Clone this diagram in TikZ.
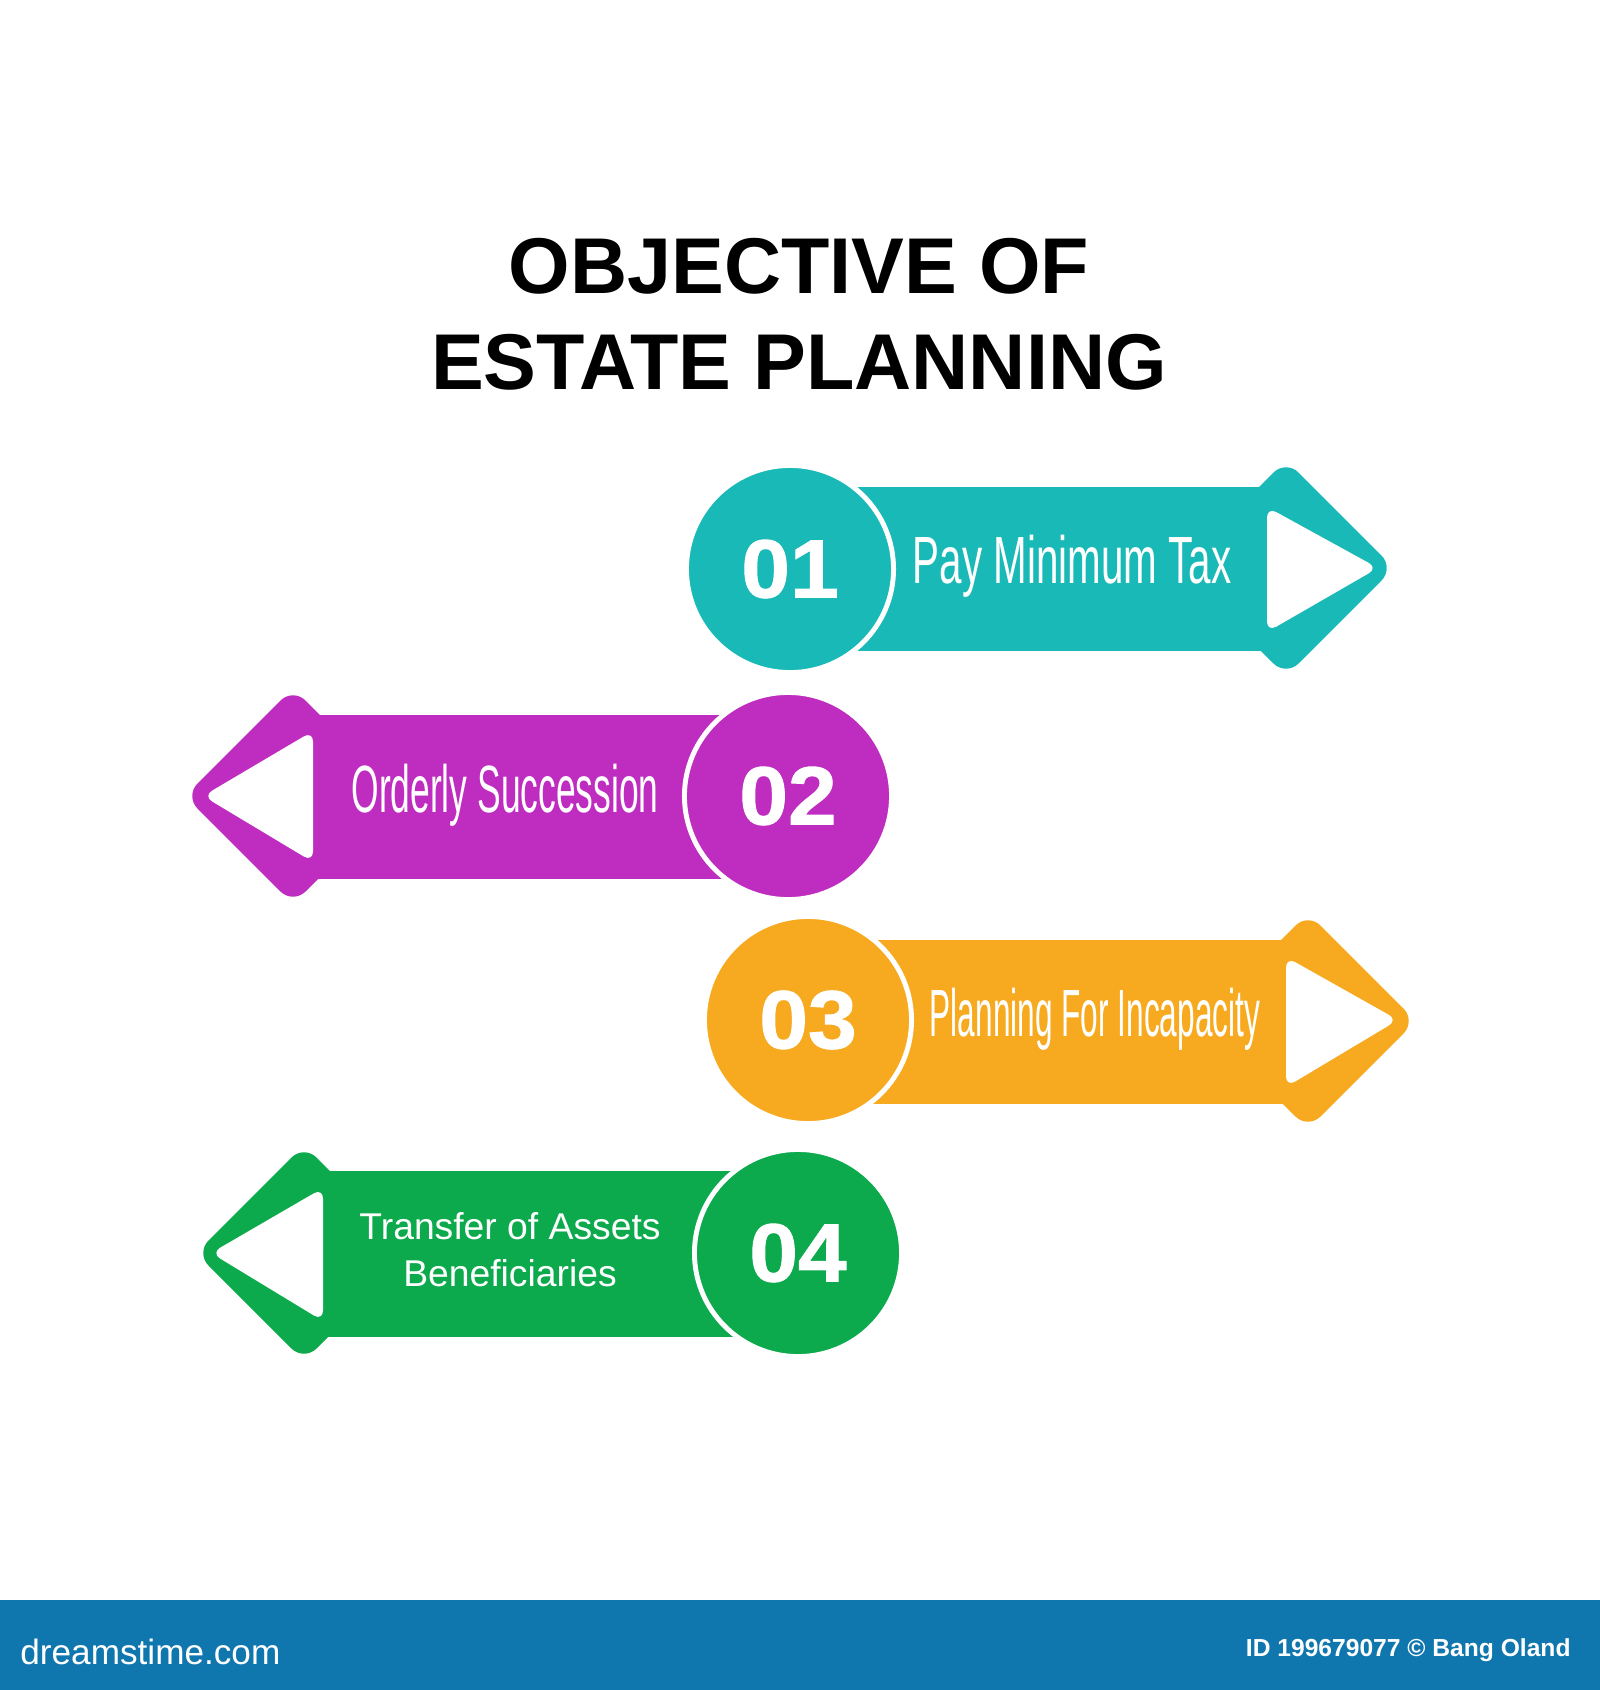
\documentclass[tikz,border=0pt]{standalone}
\usepackage{fontspec}
\setmainfont{Liberation Sans}
\newfontfamily\narrowfont[FakeStretch=0.57]{Liberation Sans}
\newfontfamily\heavyfont[FakeBold=1.2,FakeStretch=1.06]{Liberation Sans Bold}
\usetikzlibrary{positioning}

\definecolor{tealA}{RGB}{24,185,182}
\definecolor{purpleB}{RGB}{190,44,192}
\definecolor{orangeC}{RGB}{247,170,32}
\definecolor{greenD}{RGB}{12,170,76}
\definecolor{barblue}{RGB}{16,118,174}

% squeeze a label to the narrow look of the reference
\newcommand{\squeeze}[2]{\scalebox{#1}[1]{#2}}

\begin{document}
\begin{tikzpicture}[
  x=0.01cm, y=-0.01cm,
  num/.style={circle,fill=#1,draw=white,line width=1.4pt,minimum size=2.07cm,
    inner sep=0pt,text=white,font=\heavyfont\fontsize{23.5}{23.5}\selectfont},
  lbl/.style={text=white,inner sep=0pt,font=\narrowfont\fontsize{19}{19}\selectfont},
  head/.style={fill=#1,rounded corners=5pt},
  tip/.style={fill=white,rounded corners=3pt}
]
\useasboundingbox (0,0) rectangle (1600,1690);

% title
\node[align=center,font=\fontsize{22.5}{27.3}\selectfont\bfseries] (title) at (799,314)
  {OBJECTIVE OF\\ESTATE PLANNING};

% 01
\fill[tealA] (790,487) rectangle (1286,651);
\fill[head=tealA] (1178,568) -- (1286,460) -- (1394,568) -- (1286,676) -- cycle;
\fill[tip] (1267,507) -- (1378,568) -- (1267,632) -- cycle;
\node[num=tealA] (n1) at (790,569) {01};
\node[lbl] (t1) at (1072,566) {\squeeze{1.06}{Pay Minimum Tax}};

% 02
\fill[purpleB] (293,715) rectangle (788,879);
\fill[head=purpleB] (185,796) -- (293,688) -- (401,796) -- (293,904) -- cycle;
\fill[tip] (203,796) -- (313,731) -- (313,862) -- cycle;
\node[num=purpleB] (n2) at (788,796) {02};
\node[lbl] (t2) at (505,795) {\squeeze{0.93}{Orderly Succession}};

% 03
\fill[orangeC] (808,940) rectangle (1308,1104);
\fill[head=orangeC] (1200,1021) -- (1308,913) -- (1416,1021) -- (1308,1129) -- cycle;
\fill[tip] (1286,957) -- (1398,1020) -- (1286,1087) -- cycle;
\node[num=orangeC] (n3) at (808,1020) {03};
\node[lbl] (t3) at (1095,1019) {\squeeze{0.83}{Planning For Incapacity}};

% 04
\fill[greenD] (304,1171) rectangle (798,1337);
\fill[head=greenD] (196,1253) -- (304,1145) -- (412,1253) -- (304,1361) -- cycle;
\fill[tip] (211,1253) -- (323,1188) -- (323,1321) -- cycle;
\node[num=greenD] (n4) at (798,1253) {04};
\node[text=white,align=center,font=\fontsize{10.6}{13.4}\selectfont] (t4) at (510,1250)
  {Transfer of Assets\\Beneficiaries};

% footer
\fill[barblue] (0,1600) rectangle (1600,1690);
\node[anchor=west,text=white,font=\fontsize{10}{10}\selectfont] (site) at (8,1652) {dreamstime.com};
\node[anchor=east,text=white,font=\fontsize{7}{7}\selectfont\bfseries] (credit) at (1583,1650)
  {ID 199679077 © Bang Oland};

\end{tikzpicture}
\end{document}
